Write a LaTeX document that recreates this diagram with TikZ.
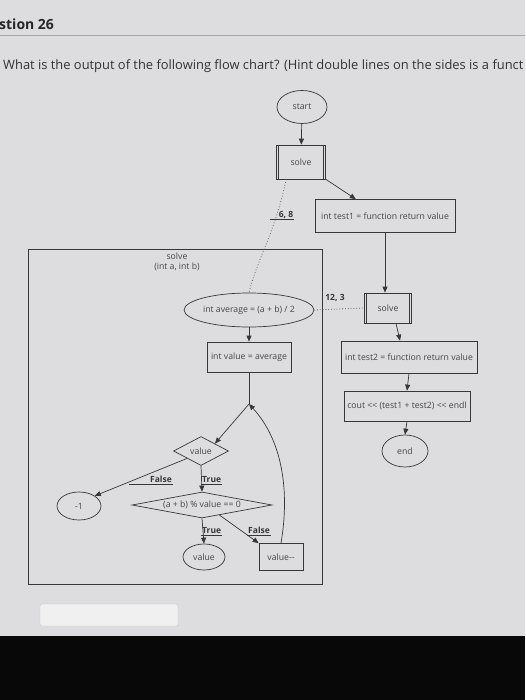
\documentclass[tikz,border=0pt]{standalone}
\usepackage{fontspec}
\setmainfont{Open Sans}
\usetikzlibrary{shapes.geometric,arrows.meta}
\definecolor{scrBg}{RGB}{221,221,223}
\definecolor{fcInk}{RGB}{55,55,55}
\definecolor{fcTxt}{RGB}{70,70,70}
\begin{document}
\begin{tikzpicture}[x=1pt,y=-1pt,
    fcLineS/.style={draw=fcInk,line width=0.7pt},
    fcArrS/.style={fcLineS,-{Triangle[length=6pt,width=5pt]}},
    fcDotS/.style={draw=fcInk!80,line width=0.8pt,dotted},
    fcBoxS/.style={fcLineS,rectangle,inner sep=0pt,text=fcTxt,font=\fontsize{8.7}{10}\selectfont},
    fcOvalS/.style={fcBoxS,ellipse},
    fcDiamS/.style={fcBoxS,diamond},
    fcTagS/.style={inner sep=1pt,text=fcInk,font=\bfseries\fontsize{8.5}{10}\selectfont},
]
\useasboundingbox (0,0) rectangle (525,700);
\clip (0,0) rectangle (525,700);
% screen and photo edge
\fill[scrBg] (0,0) rectangle (525,636);
\fill[black!97] (0,636) rectangle (525,700);
% question header
\node[anchor=west,inner sep=0,text=black!85,font=\bfseries\fontsize{14}{16}\selectfont] (qNum) at (-1,24) {stion 26};
\draw[gray!70,line width=0.8pt] (0,35) -- (525,35);
\node[anchor=west,inner sep=0,text=black!80,font=\fontsize{12.9}{15}\selectfont] (qText) at (3,66)
    {What is the output of the following flow chart? (Hint double lines on the sides is a funct};
% main flow
\node[fcOvalS,minimum width=50,minimum height=33] (start) at (302,107) {start};
\node[fcBoxS,minimum width=49,minimum height=34] (solveA) at (301,162) {solve};
\draw[fcLineS] ([xshift=2.5pt]solveA.north west) -- ([xshift=2.5pt]solveA.south west);
\draw[fcLineS] ([xshift=-2.5pt]solveA.north east) -- ([xshift=-2.5pt]solveA.south east);
\node[fcBoxS,minimum width=140,minimum height=33] (test1) at (385,216) {int test1 = function return value};
\node[fcBoxS,minimum width=47,minimum height=30] (solveB) at (388,308) {solve};
\draw[fcLineS] ([xshift=2.5pt]solveB.north west) -- ([xshift=2.5pt]solveB.south west);
\draw[fcLineS] ([xshift=-2.5pt]solveB.north east) -- ([xshift=-2.5pt]solveB.south east);
\node[fcBoxS,minimum width=136,minimum height=32] (test2) at (409,357) {int test2 = function return value};
\node[fcBoxS,minimum width=126,minimum height=30] (out) at (407,406) {cout {<}{<} (test1 + test2) {<}{<} endl};
\node[fcOvalS,minimum width=46,minimum height=32] (stop) at (405,451) {end};
\draw[fcArrS] (start) -- (solveA);
\draw[fcArrS] (solveA.south east) -- (test1.150);
\draw[fcArrS] (test1.south) -- (test1.south |- solveB.north);
\draw[fcArrS] ([xshift=8pt]solveB.south) -- ([xshift=-9pt]test2.north);
\draw[fcArrS] (test2.south) -- (out.north);
\draw[fcArrS] (out.south) -- (stop.north);
% function solve(int a, int b)
\draw[fcLineS] (28,249) rectangle (322,584);
\node[align=center,inner sep=0,text=fcTxt,font=\fontsize{8.7}{10}\selectfont] (fnHead) at (177,262) {solve\\(int a, int b)};
\node[fcOvalS,minimum width=122,minimum height=34] (avg) at (249,310) {int average = (a + b) / 2};
\node[fcBoxS,minimum width=84,minimum height=30] (val) at (249,357) {int value = average};
\coordinate (join) at (249,404);
\node[fcDiamS,aspect=1.9,minimum width=55,minimum height=29] (dVal) at (201,451) {value};
\node[fcOvalS,minimum width=44,minimum height=28] (neg) at (79,506) {-1};
\node[fcDiamS,aspect=5.4,minimum width=140,minimum height=26] (dMod) at (202,505) {(a + b) \% value == 0};
\node[fcOvalS,minimum width=42,minimum height=26] (retVal) at (204,557) {value};
\node[fcBoxS,minimum width=44,minimum height=27] (dec) at (281,557) {value-\kern0pt-};
\draw[fcArrS] (avg) -- (val);
\draw[fcLineS] (val.south) -- (join);
\draw[fcArrS] (join) -- (dVal.north east);
\draw[fcArrS] (dVal.south west) -- (neg.north east);
\draw[fcArrS] (dVal.south) -- (dMod.north);
\draw[fcArrS] (dMod.south) -- (retVal.north);
\draw[fcArrS] (dMod.-30) -- (dec.north west);
\draw[fcArrS] (dec.north) .. controls (290,490) and (282,440) .. (join);
% arguments passed
\draw[fcDotS] ([xshift=10pt]solveA.south west) .. controls (276,230) and (256,262) .. (avg.north);
\draw[fcDotS] (avg.east) -- (solveB.west);
\node[fcTagS] (tArgA) at (286,215) {6, 8};
\draw[fcLineS] ([xshift=-8pt]tArgA.south west) -- (tArgA.south east);
\node[fcTagS] (tArgB) at (335,298) {12, 3};
% branch labels
\node[fcTagS,anchor=south east] (tF1) at (173,484) {False};
\draw[fcLineS] ([xshift=-20pt]tF1.south west) -- (tF1.south east);
\node[fcTagS,anchor=south west] (tT1) at (201,484) {True};
\draw[fcLineS] (tT1.south west) -- (tT1.south east);
\node[fcTagS,anchor=south west] (tT2) at (201,535) {True};
\draw[fcLineS] (tT2.south west) -- (tT2.south east);
\node[fcTagS,anchor=south west] (tF2) at (247,535) {False};
\draw[fcLineS] (tF2.south west) -- (tF2.south east);
% answer field
\draw[gray!45,fill=white!55!scrBg,rounded corners=2pt] (40,604) rectangle (178,626);
\end{tikzpicture}
\end{document}
